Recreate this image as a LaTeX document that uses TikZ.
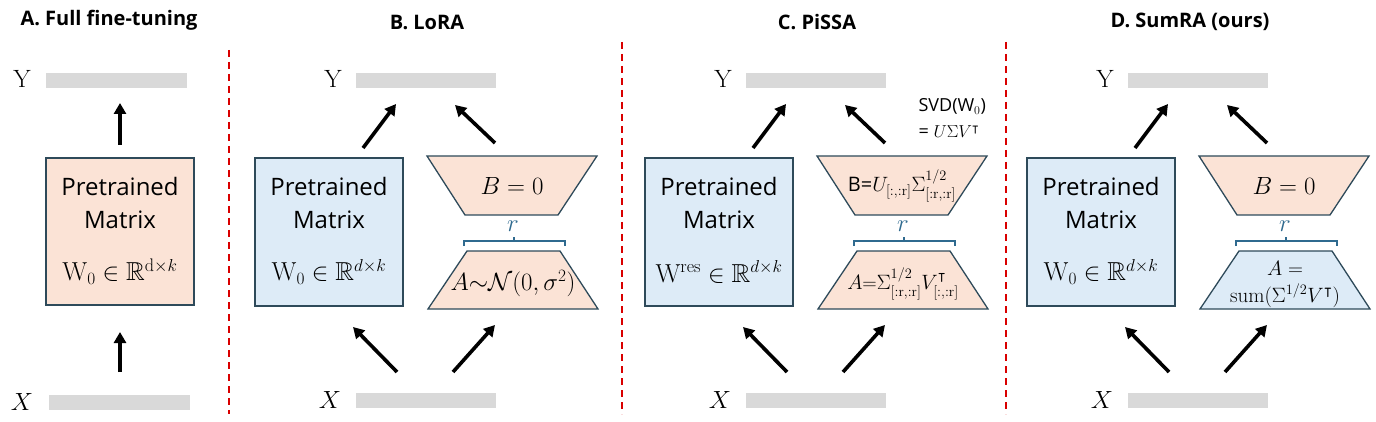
\documentclass[tikz,border=0pt]{standalone}
\usepackage{fontspec}
\usepackage{amssymb}
\setsansfont{Open Sans}
\usetikzlibrary{arrows.meta}
\definecolor{peach}{HTML}{FBE3D6}
\definecolor{lblue}{HTML}{DDEBF7}
\definecolor{edge}{HTML}{2E4A5A}
\definecolor{rcol}{HTML}{2F6A8F}
\definecolor{barg}{HTML}{D9D9D9}
\tikzset{
  bar/.style={fill=barg,draw=none},
  mat/.style={draw=edge,line width=1.3pt},
  arr/.style={line width=3.6pt,-{Triangle[length=11pt,width=12pt]}},
  ttl/.style={font=\sffamily\bfseries\fontsize{20}{23}\selectfont},
  lab/.style={font=\fontsize{25}{28}\selectfont},
  btxt/.style={font=\sffamily\fontsize{24}{33}\selectfont,align=center},
  mtxt/.style={font=\fontsize{26}{28}\selectfont},
  sep/.style={red!85!black,line width=1.5pt,dash pattern=on 7pt off 5pt},
}
\newcommand{\lowpanel}[6]{% offset, name, matrix line, Btext, Atext, Afill
\begin{scope}[xshift=#1]
  \node[lab] (Yl#2) at (333,79) {$\mathrm{Y}$};
  \fill[bar] (356,73) rectangle (496,88);
  \node[lab] (Xl#2) at (330,400) {$X$};
  \fill[bar] (356,393) rectangle (496,408);
  \draw[mat,fill=lblue] (255,158) rectangle (403,306);
  \node[btxt] (box#2) at (329,203) {Pretrained\\Matrix};
  \node[mtxt] (w#2) at (329,272) {#3};
  \draw[mat,fill=peach] (427,156) -- (597,156) -- (558,215) -- (465,215) -- cycle;
  \node[mtxt] (B#2) at (512,186) {#4};
  \node[font=\fontsize{26}{28}\selectfont,text=rcol] (r#2) at (513,226) {$r$};
  \draw[rcol,line width=1.2pt] (464,246) -- (464,241) -- (565,241) -- (565,246) (514,241) -- (514,237);
  \draw[mat,fill=#6] (467,251) -- (560,251) -- (598,309) -- (428,309) -- cycle;
  \node[mtxt,align=center] (A#2) at (513,284) {#5};
  \coordinate (a1t#2) at (363,148); \coordinate (a1h#2) at (396,104);
  \coordinate (a2t#2) at (495,143); \coordinate (a2h#2) at (455,105);
  \coordinate (a3t#2) at (397,372); \coordinate (a3h#2) at (353,327);
  \coordinate (a4t#2) at (453,372); \coordinate (a4h#2) at (495,325);
  \draw[arr] (a1t#2) -- (a1h#2);
  \draw[arr] (a2t#2) -- (a2h#2);
  \draw[arr] (a3t#2) -- (a3h#2);
  \draw[arr] (a4t#2) -- (a4h#2);
\end{scope}}
\begin{document}
\begin{tikzpicture}[x=1pt,y=-1pt]
\useasboundingbox (0,0) rectangle (1376,422);
\node[ttl] (tA) at (109,20) {A. Full fine-tuning};
\node[ttl] (tB) at (427,22) {B. LoRA};
\node[ttl] (tC) at (817,22) {C. PiSSA};
\node[ttl] (tD) at (1190,22) {D. SumRA (ours)};
% Panel A
\node[lab] (YA) at (22,79) {$\mathrm{Y}$};
\fill[bar] (46,73) rectangle (187,88);
\node[lab] (XA) at (22,402) {$X$};
\fill[bar] (49,395) rectangle (190,410);
\draw[mat,fill=peach] (46,158) rectangle (194,305);
\node[btxt] (boxA) at (120,203) {Pretrained\\Matrix};
\node[mtxt] (wA) at (120,272) {$\mathrm{W}_0\in\mathbb{R}^{\mathrm{d}\times k}$};
\coordinate (aAt1) at (120,145); \coordinate (aAh1) at (120,103);
\coordinate (aAt2) at (120,372); \coordinate (aAh2) at (120,332);
\draw[arr] (aAt1) -- (aAh1);
\draw[arr] (aAt2) -- (aAh2);
% separators
\coordinate (s1a) at (229,50); \coordinate (s1b) at (229,414);
\coordinate (s2a) at (622,42); \coordinate (s2b) at (622,414);
\coordinate (s3a) at (1006,42); \coordinate (s3b) at (1006,414);
\draw[sep] (s1a) -- (s1b);
\draw[sep] (s2a) -- (s2b);
\draw[sep] (s3a) -- (s3b);
\lowpanel{0}{b}{$\mathrm{W}_0\in\mathbb{R}^{d\times k}$}{$B=0$}{\fontsize{23}{25}\selectfont$A{\sim}\mathcal{N}(0,\sigma^2)$}{peach}
\lowpanel{390}{c}{$\mathrm{W}^{\mathrm{res}}\in\mathbb{R}^{d\times k}$}{\fontsize{20}{22}\selectfont\textsf{B=}$U_{[:,:\mathrm{r}]}\Sigma^{1/2}_{[:\mathrm{r},:\mathrm{r}]}$}{\fontsize{20}{22}\selectfont$A$=$\Sigma^{1/2}_{[:\mathrm{r},:\mathrm{r}]}V^{\intercal}_{[:,:\mathrm{r}]}$}{peach}
\lowpanel{772}{d}{$\mathrm{W}_0\in\mathbb{R}^{d\times k}$}{$B=0$}{\fontsize{21}{21}\selectfont$A=$\\[-1pt]\fontsize{21}{21}\selectfont$\mathrm{sum}(\Sigma^{1/2}V^{\intercal})$}{lblue}
\node[font=\sffamily\fontsize{18}{26}\selectfont,align=left,anchor=west] (svd) at (915,118) {SVD(W$_0$)\\= $U\Sigma V^{\intercal}$};
\end{tikzpicture}
\end{document}
